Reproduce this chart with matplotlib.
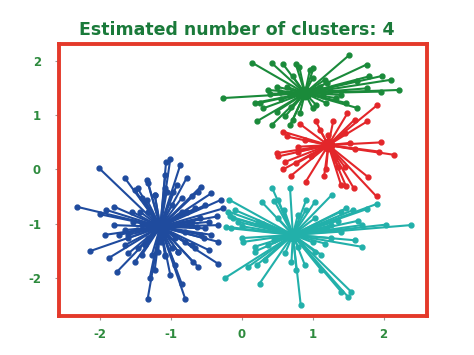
import matplotlib
matplotlib.use("Agg")
import matplotlib.pyplot as plt

title = "Estimated number of clusters: 4"
x_ticks = [-2, -1, 0, 1, 2]
y_ticks = [-2, -1, 0, 1, 2]
cluster_names = ["blue", "cyan", "red", "green"]
cluster_colors = ["#1f4b9e", "#22b0aa", "#e3262a", "#1a8a3a"]

# exemplars (cluster centers)
blue_center = (-1.15, -1.06)
cyan_center = (0.72, -1.21)
red_center = (1.22, 0.45)
green_center = (0.89, 1.41)

blue_x = [-2.02, -2.33, -1.65, -1.47, -1.34, -1.32, -1.07, -1.01, -0.87, -1.08, -0.78, -0.58, -0.62,
          -0.43, -0.29, -0.26, -0.35, -0.33, -0.33, -0.47, -0.34, -0.62, -0.69, -0.80, -0.85, -1.01,
          -1.23, -1.33, -1.30, -1.51, -1.76, -1.88, -2.14, -1.93, -1.81, -2.00, -1.91, -1.80, -1.65,
          -1.60, -1.41, -1.08, -0.94, -0.90, -0.71, -0.57, -0.47, -0.52, -0.71, -0.92, -1.23, -1.41,
          -1.55, -1.60, -1.37, -0.94, -0.71, -0.85, -0.99, -1.32, -1.41, -1.32, -0.80, -1.48, -0.64,
          -1.14, -1.74, -1.06, -0.43,
          -1.51, -1.34, -1.65, -1.60, -1.46, -1.27, -1.08, -0.90, -0.66, -0.54, -0.52, -0.59, -0.66,
          -0.85, -0.97, -1.08, -1.23, -1.44, -1.53, -1.37, -0.80, -0.73, -0.78, -1.18, -0.99]
blue_y = [0.03, -0.69, -0.16, -0.35, -0.19, -0.26, 0.13, 0.19, 0.08, -0.10, -0.16, -0.32, -0.41,
          -0.44, -0.56, -0.72, -0.87, -1.03, -1.34, -1.49, -1.74, -1.80, -1.71, -2.39, -2.11, -1.95,
          -1.86, -2.40, -2.01, -1.71, -1.89, -1.64, -1.51, -1.21, -1.03, -0.83, -0.75, -0.69, -1.40,
          -1.55, -1.58, -1.58, -1.77, -1.52, -1.40, -1.21, -0.97, -0.66, -0.50, -0.29, -0.47, -0.53,
          -0.78, -1.21, -1.40, -1.27, -0.97, -0.78, -0.66, -0.78, -1.03, -1.27, -1.15, -1.12, -1.06,
          -1.34, -1.21, -0.41, -1.21,
          -0.38, -0.56, -1.12, -1.27, -1.46, -1.58, -1.61, -1.52, -1.46, -1.27, -1.09, -0.90, -0.72,
          -0.53, -0.41, -0.35, -0.47, -0.78, -0.97, -1.37, -1.34, -1.03, -0.78, -1.52, -1.46]

cyan_x = [-0.18, -0.24, 0.43, 0.68, 0.91, 1.27, 0.46, 0.28, 0.51, 1.03, 1.90, 1.77, 1.47, 1.57,
          1.64, 2.04, 2.38, 1.59, 1.69, 1.54, 1.50, 1.40, 0.83, 0.77, 1.12, 1.12, 1.03, 0.25, 0.09,
          0.21, 0.32, 0.18, 0.18, 0.00, 0.02, 0.61, -0.15, -0.22, -0.17, -0.19, -0.12, -0.05, -0.10,
          0.79, 1.17, 0.70, 1.40, 1.26, 1.40, 1.26, 1.03, 0.37, 0.51, 0.23, 0.79, 0.89, 1.69,
          0.00, 0.30, 1.20, 1.00, 0.45, 0.90, 0.60, 1.35]
cyan_y = [-0.56, -2.01, -0.35, -0.35, -0.56, -0.47, -0.58, -0.60, -0.56, -0.60, -0.64, -0.73, -0.72,
          -0.75, -0.95, -1.02, -1.03, -1.31, -1.43, -2.26, -2.36, -2.26, -2.50, -1.86, -1.86, -1.58,
          -1.52, -2.11, -1.80, -1.77, -1.68, -1.52, -1.43, -1.27, -1.34, -1.55, -1.09, -1.06, -0.87,
          -0.78, -0.90, -0.97, -0.75, -1.43, -1.37, -1.71, -0.78, -1.03, -1.15, -1.27, -0.90, -1.40,
          -0.90, -0.97, -0.84, -1.77, -1.03,
          -1.05, -1.00, -1.10, -1.35, -1.30, -0.75, -0.75, -0.95]

red_x = [1.91, 1.49, 1.77, 1.59, 1.29, 1.04, 0.82, 0.58, 0.63, 0.49, 0.51, 0.58, 0.69, 0.90, 1.16,
         1.19, 1.40, 1.47, 1.58, 1.90, 1.78, 1.96, 2.15, 1.94, 1.59, 0.79, 0.79, 0.77, 0.61, 1.10,
         1.22, 1.45, 1.36, 1.31, 1.45, 0.98, 0.89, 1.52]
red_y = [1.19, 1.04, 0.89, 0.92, 0.90, 0.90, 0.84, 0.70, 0.61, 0.30, 0.24, 0.00, -0.12, -0.23, -0.13,
         0.00, -0.29, -0.31, -0.35, -0.50, -0.14, 0.50, 0.27, 0.33, 0.37, 0.33, 0.42, 0.11, 0.14, 0.73,
         0.64, 0.67, 0.05, 0.21, 0.05, 0.24, 0.55, 0.49]

green_x = [-0.27, 0.15, 0.42, 0.58, 0.76, 0.81, 1.01, 0.96, 1.51, 1.76, 1.79, 1.98, 2.11, 2.22, 1.97,
           1.62, 1.47, 1.40, 0.21, 0.42, 0.68, 0.82, 0.18, 0.25, 0.37, 0.49, 0.63, 1.17, 1.15, 1.05,
           1.19, 1.00, 0.61, 0.49, 0.30, 0.72, 0.68, 0.54, 1.10, 1.00, 0.72, 1.62, 1.76, 1.33,
           0.55, 1.25, 0.70, 1.20, 0.40]
green_y = [1.32, 1.97, 1.97, 1.95, 1.95, 1.90, 1.87, 1.84, 2.11, 1.94, 1.72, 1.73, 1.66, 1.47, 1.44,
           1.14, 1.23, 1.38, 0.89, 0.82, 0.82, 1.04, 1.23, 1.23, 1.47, 1.53, 1.53, 1.66, 1.35, 1.19,
           1.23, 1.13, 0.98, 1.07, 1.13, 0.92, 1.38, 1.44, 1.53, 1.69, 1.72, 1.64, 1.50, 1.32,
           1.30, 1.45, 1.15, 1.60, 1.40]

clusters = [
    (blue_x, blue_y, blue_center),
    (cyan_x, cyan_y, cyan_center),
    (red_x, red_y, red_center),
    (green_x, green_y, green_center),
]

fig = plt.figure(figsize=(4.74, 3.55), dpi=100)
ax = fig.add_axes([0.1245, 0.110, 0.776, 0.766])

for (xs, ys, c), col in zip(clusters, cluster_colors):
    for x, y in zip(xs, ys):
        ax.plot([c[0], x], [c[1], y], color=col, lw=1.5, zorder=1)
    ax.plot(xs, ys, "o", color=col, markersize=3.5, zorder=2)
    ax.plot(c[0], c[1], "o", color=col, markersize=9, markeredgecolor=col, zorder=3)

ax.set_xlim(-2.58, 2.61)
ax.set_ylim(-2.71, 2.32)
ax.set_xticks(x_ticks)
ax.set_yticks(y_ticks)
ax.set_xticklabels([str(t) for t in x_ticks])
ax.set_yticklabels([str(t) for t in y_ticks])
ax.tick_params(axis="both", colors="#999999", labelcolor="#2e8b3e", length=3, width=0.8,
               labelsize=8.5)
for lab in ax.get_xticklabels() + ax.get_yticklabels():
    lab.set_fontweight("bold")
ax.tick_params(axis="y", pad=10)
ax.tick_params(axis="x", pad=6)
for sp in ax.spines.values():
    sp.set_color("#e4392a")
    sp.set_linewidth(2.8)

fig.text(0.5, 0.915, title, ha="center", va="center", fontsize=12.5, fontweight="bold",
         color="#1a7a3a")

fig.savefig("out.png", dpi=100)
